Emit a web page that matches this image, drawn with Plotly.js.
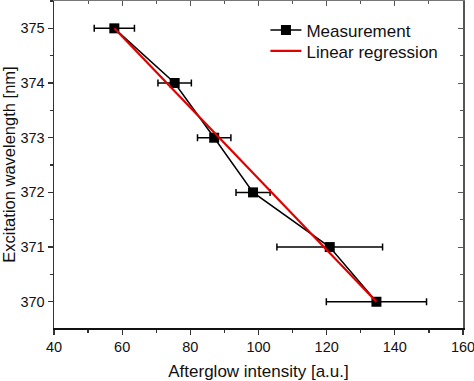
<!DOCTYPE html>
<html><head><meta charset="utf-8">
<script src="https://cdn.plot.ly/plotly-3.0.1.min.js"></script>
<style>html,body{margin:0;padding:0;background:#fff}#c{width:474px;height:381px}</style>
</head><body><div id="c"></div>
<script>
const intensity = [57.7, 75.4, 87.0, 98.4, 120.9, 134.6];
const intensityErr = [5.9, 4.9, 4.9, 5.0, 15.5, 14.7];
const wavelength = [375, 374, 373, 372, 371, 370];
const fitX = [57.7, 134.6];
const fitY = [375.0, 370.0];
const xTicks = [40, 60, 80, 100, 120, 140, 160];
const yTicks = [370, 371, 372, 373, 374, 375];

const font = {family: 'Liberation Sans, Arial, sans-serif', color: '#111'};
const data = [
  {x: intensity, y: wavelength, type: 'scatter', mode: 'lines+markers', name: 'Measurement',
   legend: 'legend',
   line: {color: '#000', width: 1.5}, marker: {symbol: 'square', size: 10, color: '#000'},
   error_x: {type: 'data', array: intensityErr, visible: true, color: '#000', thickness: 1.5, width: 3.5}},
  {x: fitX, y: fitY, type: 'scatter', mode: 'lines', name: 'Linear regression',
   legend: 'legend2',
   line: {color: '#e00000', width: 2.2}},
  {x: [40], y: [370], xaxis: 'x2', yaxis: 'y2', type: 'scatter', mode: 'markers',
   marker: {opacity: 0}, showlegend: false, hoverinfo: 'skip'}
];
const axBase = {showgrid: false, zeroline: false, linecolor: '#333', linewidth: 1.5,
  ticks: 'outside', ticklen: 5, tickwidth: 1.2, tickcolor: '#333',
  ticklabeloverflow: 'allow', tickfont: {...font, size: 14.5}};
const legBase = {xanchor: 'left', yanchor: 'top', bgcolor: 'rgba(0,0,0,0)',
  font: {...font, size: 17}, itemwidth: 31};
const layout = {
  width: 474, height: 381,
  margin: {l: 54, r: 11, t: 1, b: 53},
  paper_bgcolor: '#fff', plot_bgcolor: '#fff',
  font: font,
  showlegend: true,
  legend: {...legBase, x: 0.517, y: 0.965},
  legend2: {...legBase, x: 0.517, y: 0.901},
  xaxis: {...axBase, range: [40, 160], tickvals: xTicks, linecolor: '#111', linewidth: 2,
    minor: {dtick: 10, ticks: 'outside', ticklen: 3, tickcolor: '#333'},
    title: {text: 'Afterglow intensity [a.u.]', font: {...font, size: 17}, standoff: 12}},
  yaxis: {...axBase, range: [369.52, 375.5], tickvals: yTicks,
    minor: {dtick: 0.5, ticks: 'outside', ticklen: 3, tickcolor: '#333'},
    title: {text: 'Excitation wavelength [nm]', font: {...font, size: 16.5}, standoff: 8}},
  xaxis2: {overlaying: 'x', side: 'top', range: [40, 160], tickvals: xTicks, showticklabels: false,
    showgrid: false, zeroline: false, showline: true, linecolor: '#777', linewidth: 1.5,
    ticks: 'inside', ticklen: 5, tickcolor: '#555',
    minor: {dtick: 10, ticks: 'inside', ticklen: 3, tickcolor: '#555'}},
  yaxis2: {overlaying: 'y', side: 'right', range: [369.52, 375.5], tickvals: yTicks, showticklabels: false,
    showgrid: false, zeroline: false, showline: true, linecolor: '#555', linewidth: 1.5,
    ticks: 'inside', ticklen: 5, tickcolor: '#555',
    minor: {dtick: 0.5, ticks: 'inside', ticklen: 3, tickcolor: '#555'}}
};
Plotly.newPlot('c', data, layout, {staticPlot: true});
</script></body></html>
